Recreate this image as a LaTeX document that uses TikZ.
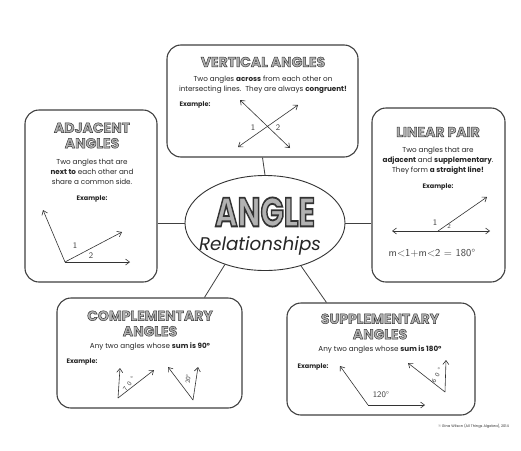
\documentclass[tikz,border=0pt]{standalone}
\usepackage{fontspec}
\setmainfont{Poppins}
\usepackage{graphicx}
\usetikzlibrary{arrows.meta,shapes.geometric,calc}
\newcommand\outl[1]{{\special{pdf:literal direct 0.2 G 0.45 w 2 Tr}#1\special{pdf:literal direct 0 Tr}}}
\tikzset{
  box/.style={draw=black!75, line width=1.1pt, rounded corners=14pt, inner sep=0pt},
  ttl/.style={font=\bfseries\fontsize{14}{15.5}\selectfont, text=black!30, align=center, inner sep=0pt},
  body/.style={font=\fontsize{7.2}{10}\selectfont, text=black!85, align=center, inner sep=0pt},
  exl/.style={font=\bfseries\fontsize{6.5}{7}\selectfont, text=black!85, inner sep=0pt},
  conn/.style={draw=black!75, line width=0.8pt},
  ray/.style={draw=black!80, line width=0.6pt, -{Straight Barb[length=4pt,width=6pt]}},
  dray/.style={draw=black!80, line width=0.6pt, {Straight Barb[length=4pt,width=6pt]}-{Straight Barb[length=4pt,width=6pt]}},
  hand/.style={font=\sffamily\fontsize{8.5}{9}\selectfont, text=black!75, inner sep=0pt},
  smallhand/.style={font=\sffamily\fontsize{6.5}{7}\selectfont, text=black!75, inner sep=0pt}
}
\begin{document}
\begin{tikzpicture}[x=1pt,y=-1pt]
\useasboundingbox (0,0) rectangle (521,450);
\fill[white] (0,0) rectangle (521,450);

% boxes
\node[box, minimum width=191pt, minimum height=112pt] (vert) at (262.5,101) {};
\node[box, minimum width=132pt, minimum height=172pt] (adj) at (91,196) {};
\node[box, minimum width=133pt, minimum height=174pt] (lin) at (438.5,195) {};
\node[box, minimum width=185pt, minimum height=110pt] (comp) at (149.5,353) {};
\node[box, minimum width=188pt, minimum height=112pt] (supp) at (381,359) {};

% centre
\node[draw=black!80, line width=0.9pt, ellipse, minimum width=160pt, minimum height=95pt] (ell) at (265,223) {};
\node[inner sep=0pt, text=black!30] (angle) at (265,212) {\resizebox{100pt}{29pt}{\bfseries\outl{ANGLE}}};
\node[inner sep=0pt, text=black!85] (rel) at (260,246) {\resizebox{122pt}{!}{\itshape\fontsize{20}{20}\selectfont\rmfamily Relationships}};

% connectors
\draw[conn] (vert.south) -- (ell.north);
\draw[conn] (ell.west) -- (ell.west -| adj.east);
\draw[conn] (ell.east) -- (ell.east -| lin.west);
\draw[conn] (ell.226) -- ($(comp.north west)+(148,0)$);
\draw[conn] (ell.310) -- ($(supp.north west)+(40,0)$);

% vertical angles
\node[ttl] (vt) at (263,62) {\outl{VERTICAL ANGLES}};
\node[body] (vb) at (263,84.5) {Two angles \textbf{across} from each other on\\intersecting lines.\ \ They are always \textbf{congruent!}};
\node[exl] (ve) at (195,105) {Example:};
\draw[dray] (240,100) -- (290,148);
\draw[dray] (298,105) -- (238,147);
\node[hand] at (253,128) {1};
\node[hand] at (278,128) {2};

% adjacent angles
\node[ttl] (at) at (92,135.5) {\outl{ADJACENT}\\\outl{ANGLES}};
\node[body] (ab) at (92,172) {Two angles that are\\\textbf{next to} each other and\\share a common side.};
\node[exl] (ae) at (92,199) {Example:};
\draw[ray] (65,262) -- (43,210);
\draw[ray] (65,262) -- (122,232);
\draw[ray] (65,262) -- (130,262);
\node[hand] at (75,246) {1};
\node[hand] at (91,256) {2};

% linear pair
\node[ttl] (lt) at (438,132) {\outl{LINEAR PAIR}};
\node[body] (lb) at (438,161) {Two angles that are\\\textbf{adjacent} and \textbf{supplementary}.\\They form \textbf{a straight line!}};
\node[exl] (le) at (438,187) {Example:};
\draw[dray] (392,231) -- (490,231);
\draw[ray] (438,231) -- (487,197);
\node[hand] at (435,223) {1};
\node[smallhand] at (449,226) {2};
\node[hand, font=\sffamily\fontsize{10.5}{11}\selectfont] (eq) at (432,253) {m<1+m<2 = 180°};

% complementary
\node[ttl] (ct) at (150,323.5) {\outl{COMPLEMENTARY}\\\outl{ANGLES}};
\node[body] (cb) at (150,347) {Any two angles whose \textbf{sum is 90°}};
\node[exl] (ce) at (82,362) {Example:};
\draw[ray] (118,398) -- (120,368);
\draw[ray] (118,398) -- (154,370);
\node[smallhand, rotate=55] at (129,384) {7\hspace{3.2pt}0\hspace{3.2pt}°};
\draw[ray] (193,400) -- (168,367);
\draw[ray] (193,400) -- (198,367);
\node[smallhand, rotate=85] at (188,379) {20°};

% supplementary
\node[ttl] (st) at (380,326.5) {\outl{SUPPLEMENTARY}\\\outl{ANGLES}};
\node[body] (sb) at (380,350) {Any two angles whose \textbf{sum is 180°}};
\node[exl] (se) at (313,367) {Example:};
\draw[ray] (368,405) -- (340,366);
\draw[ray] (368,405) -- (425,405);
\node[hand] at (381,395) {120°};
\draw[ray] (445,392) -- (446,360);
\draw[ray] (445,392) -- (408,363);
\node[smallhand, rotate=62] at (437,375) {6\hspace{3.2pt}0\hspace{3.2pt}°};

% copyright
\node[font=\fontsize{3.6}{4}\selectfont, text=black!80, anchor=east, inner sep=0pt] (copy) at (509,426) {© Gina Wilson (All Things Algebra), 2014};
\end{tikzpicture}
\end{document}
